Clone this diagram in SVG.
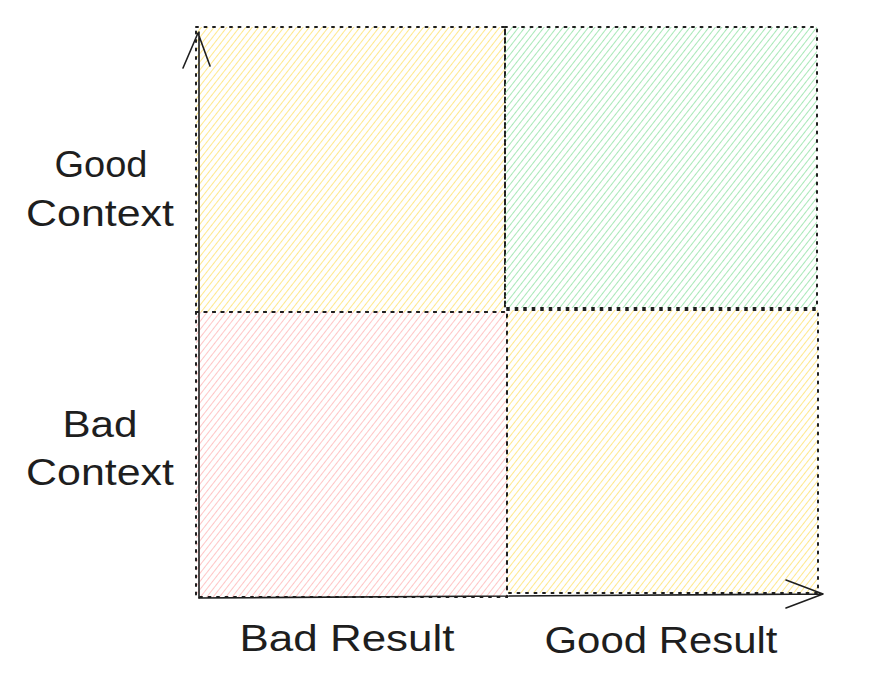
<svg xmlns="http://www.w3.org/2000/svg" width="886" height="692" viewBox="0 0 886 692">
<style>
.q{stroke:#1e1e1e;stroke-width:2;stroke-dasharray:2 6.5;stroke-linecap:round}
.ax{stroke:#1e1e1e;stroke-width:1.6;fill:none;stroke-linecap:round;stroke-linejoin:round}
.t{font-family:"Liberation Sans",sans-serif;font-size:36px;fill:#1e1e1e;text-anchor:middle}
</style>
<defs>
<pattern id="hy" width="5" height="5" patternUnits="userSpaceOnUse" patternTransform="rotate(38)"><line x1="0" y1="0" x2="0" y2="5" stroke="#ffe066" stroke-width="1.5"/></pattern>
<pattern id="hg" width="5" height="5" patternUnits="userSpaceOnUse" patternTransform="rotate(38)"><line x1="0" y1="0" x2="0" y2="5" stroke="#8ce0a0" stroke-width="1.5"/></pattern>
<pattern id="hr" width="5" height="5" patternUnits="userSpaceOnUse" patternTransform="rotate(38)"><line x1="0" y1="0" x2="0" y2="5" stroke="#ffb3b3" stroke-width="1.5"/></pattern>
</defs>
<g id="q-good-context-bad-result"><rect x="196" y="27" width="309" height="285" fill="url(#hy)" class="q"/></g>
<g id="q-good-context-good-result"><rect x="505" y="27" width="312" height="281" fill="url(#hg)" class="q"/></g>
<g id="q-bad-context-bad-result"><rect x="196" y="312" width="311" height="285" fill="url(#hr)" class="q"/></g>
<g id="q-bad-context-good-result"><rect x="507" y="310" width="311" height="283" fill="url(#hy)" class="q"/></g>
<g id="connectors">
<path class="ax" d="M199 598 L199 32 M183 68 L198 33 L210 66"/>
<path class="ax" d="M199 598 L823 594 M786 580 L823 594 L786 608"/>
</g>
<g id="labels">
<text class="t" x="101" y="177" textLength="93" lengthAdjust="spacingAndGlyphs">Good</text>
<text class="t" x="100" y="226" textLength="148" lengthAdjust="spacingAndGlyphs">Context</text>
<text class="t" x="100" y="437" textLength="75" lengthAdjust="spacingAndGlyphs">Bad</text>
<text class="t" x="100" y="485" textLength="148" lengthAdjust="spacingAndGlyphs">Context</text>
<text class="t" x="347" y="651" textLength="215" lengthAdjust="spacingAndGlyphs">Bad Result</text>
<text class="t" x="661" y="653" textLength="233" lengthAdjust="spacingAndGlyphs">Good Result</text>
</g>
</svg>
